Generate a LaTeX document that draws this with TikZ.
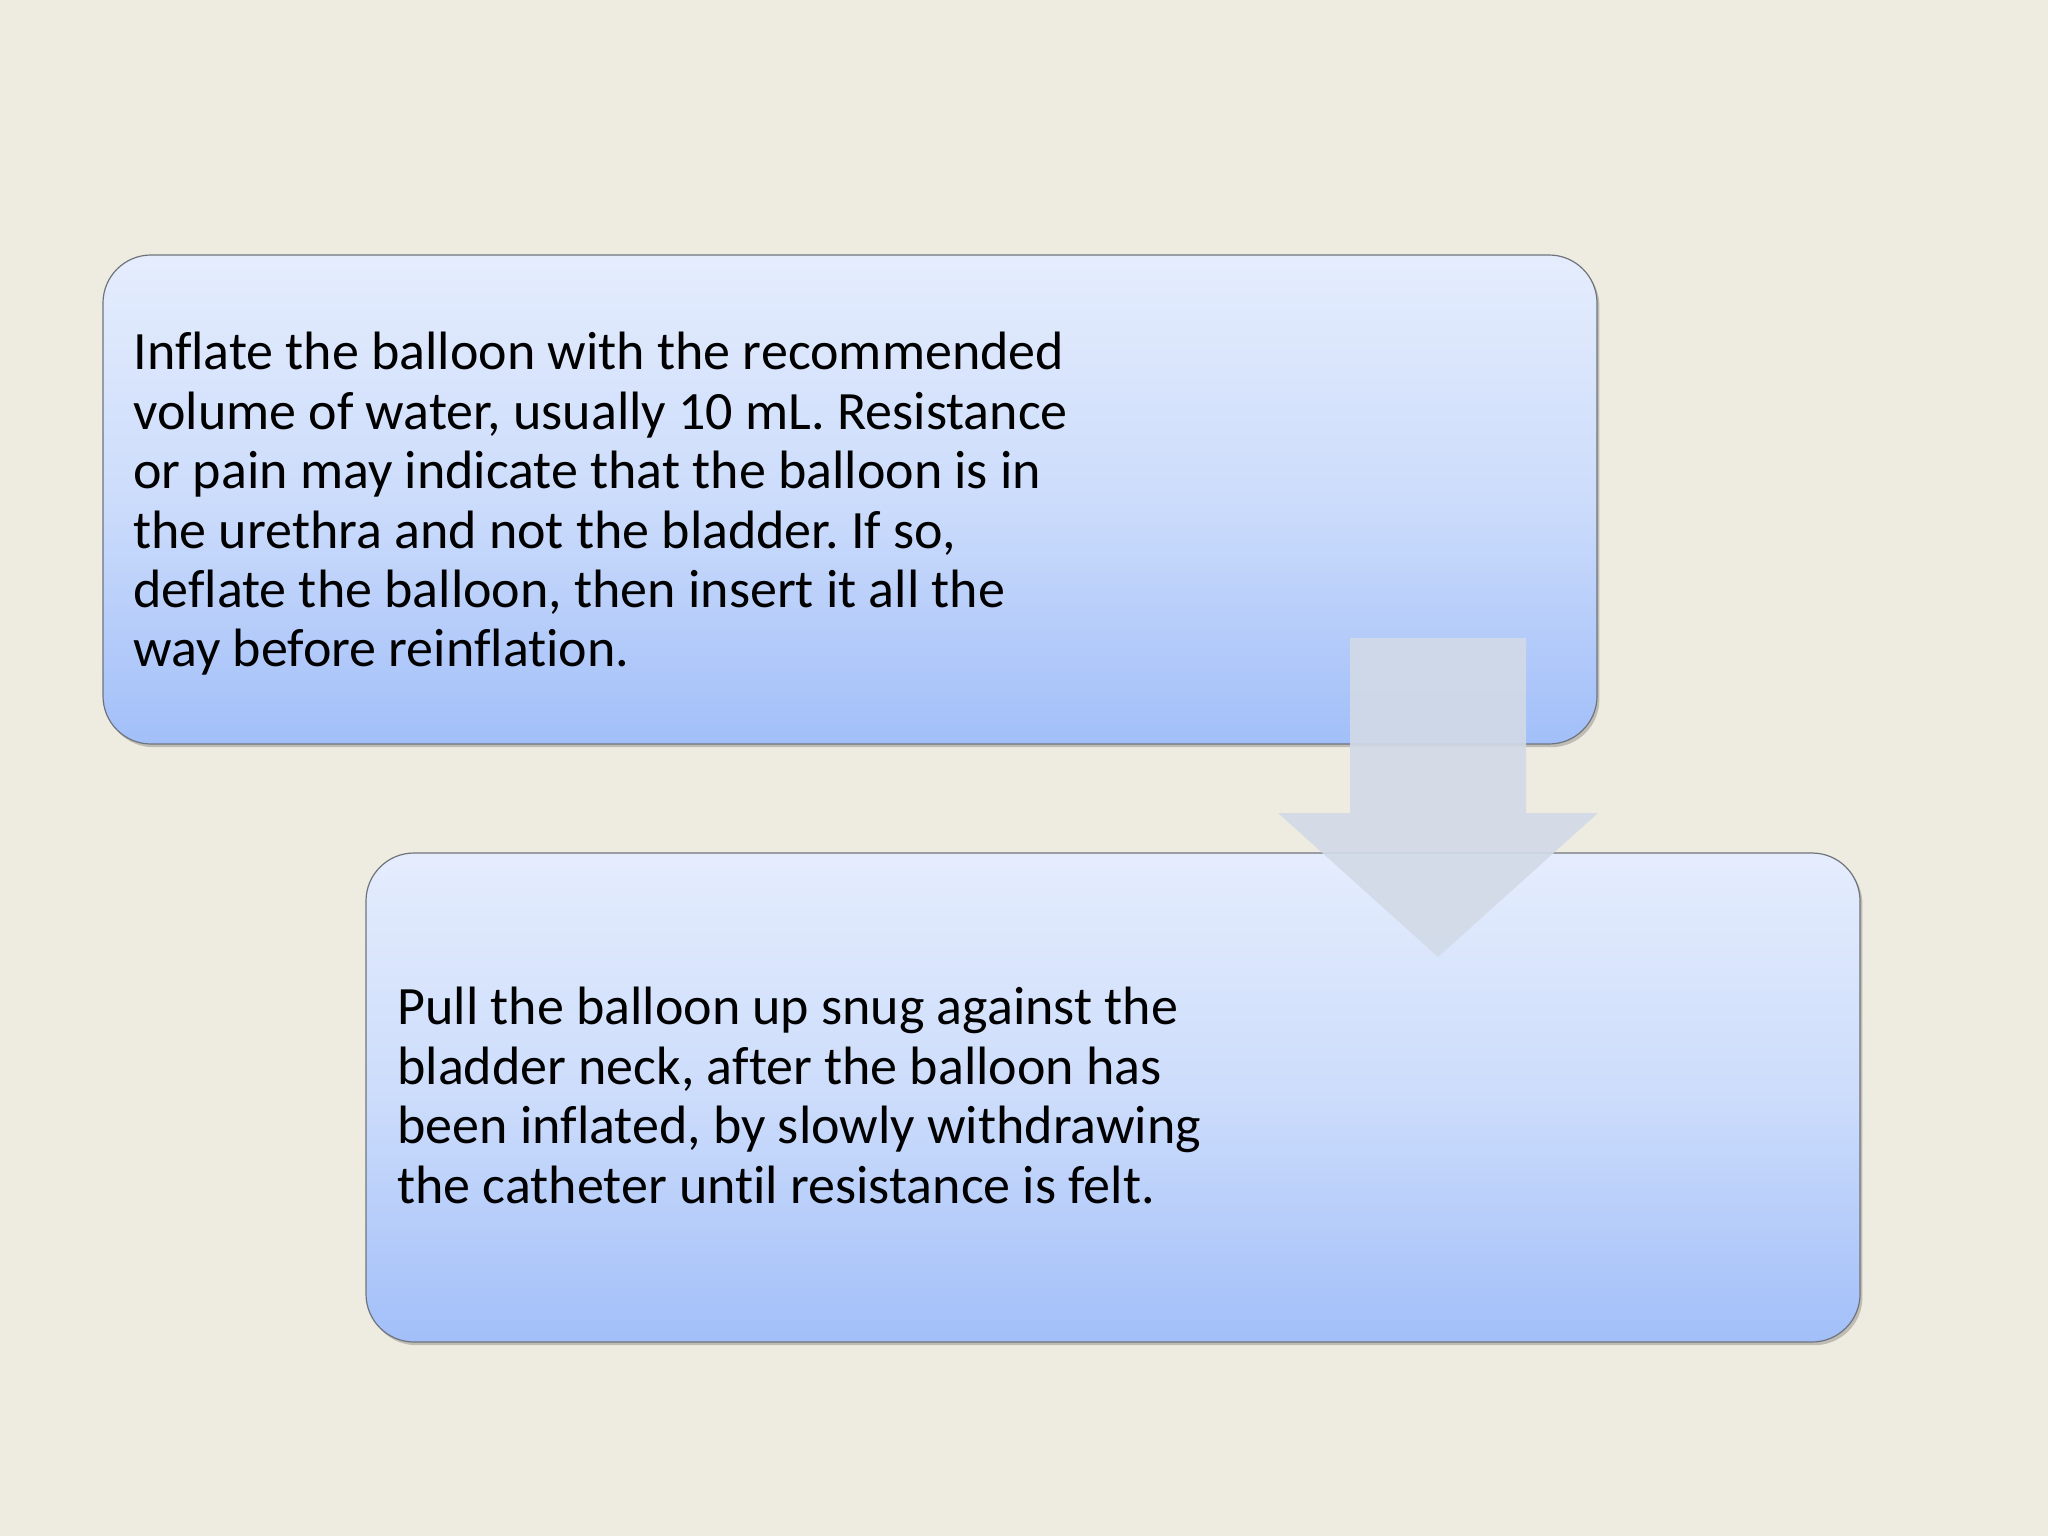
\documentclass[tikz,border=0pt]{standalone}
\usepackage{fontspec}
\setmainfont[Ligatures=NoCommon]{Carlito}
\frenchspacing
\usetikzlibrary{shadows}
\definecolor{bg}{HTML}{EEEBE0}
\definecolor{boxtop}{HTML}{E5EDFD}
\definecolor{boxmid}{HTML}{CCDCFB}
\definecolor{boxbot}{HTML}{A2BFF9}
\definecolor{boxline}{HTML}{6F747C}
\definecolor{arrowfill}{HTML}{D2DAE7}
\tikzset{
  stepbox/.style={draw=boxline, line width=0.6pt, rounded corners=24pt,
    top color=boxtop, bottom color=boxbot, middle color=boxmid,
    drop shadow={shadow xshift=1.2pt, shadow yshift=-1.6pt, opacity=0.35, fill=black!60}},
  steptext/.style={inner sep=0pt, align=left, anchor=north west, text=black,
    font=\fontsize{27}{29.7}\selectfont},
  flowarrow/.style={fill=arrowfill, fill opacity=0.9, draw=none}
}
\begin{document}
\begin{tikzpicture}[x=0.5pt, y=-0.5pt]
\fill[bg] (0,0) rectangle (2048,1536);
\useasboundingbox (0,0) rectangle (2048,1536);
% box 1
\path[stepbox] (103,255) rectangle (1597,744);
\node[steptext] (t1) at (133,332) {Inflate the balloon with the recommended\\volume of water, usually 10 mL. Resistance\\or pain may indicate that the balloon is in\\the urethra and not the bladder. If so,\\deflate the balloon, then insert it all the\\way before reinflation.};
% box 2
\path[stepbox] (366,853) rectangle (1860,1342);
\node[steptext] (t2) at (397,987) {Pull the balloon up snug against the\\bladder neck, after the balloon has\\been inflated, by slowly withdrawing\\the catheter until resistance is felt.};
% arrow
\path[flowarrow] (1350,638) -- (1526,638) -- (1526,813) -- (1598,813) -- (1438,957) -- (1278,813) -- (1350,813) -- cycle;
\end{tikzpicture}
\end{document}
